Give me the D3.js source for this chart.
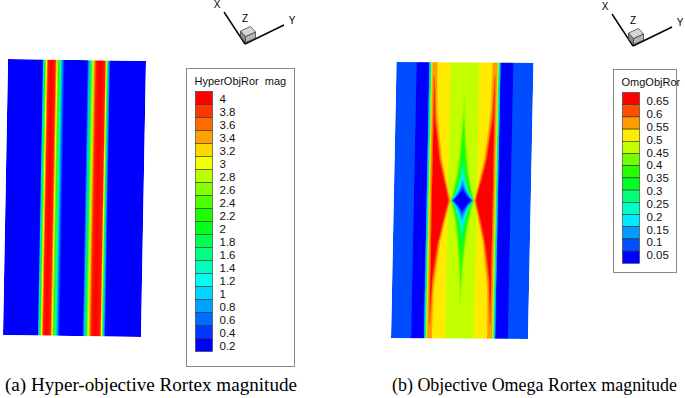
<!DOCTYPE html>
<html>
<head>
<meta charset="utf-8">
<script src="https://cdn.jsdelivr.net/npm/d3@7"></script>
<style>
  body { margin: 0; background: #fff; }
  svg { display: block; }
</style>
</head>
<body>
<svg id="chart" width="685" height="398"></svg>
<script>
// ---- data ----

// (a) cross-section across the plate: position u (0..1) and magnitude
const leftU   = [0, 0.250, 0.258, 0.268, 0.279, 0.292, 0.315, 0.342, 0.355, 0.368, 0.382, 0.398, 0.412,
                 0.575, 0.588, 0.602, 0.618, 0.640, 0.668, 0.703, 0.712, 0.722, 0.732, 0.742, 1];
const leftVal = [0.1, 0.1, 1.0, 2.0, 3.0, 3.9, 4.1, 3.9, 3.1, 2.2, 1.4, 0.6, 0.1,
                 0.1, 0.9, 1.9, 2.9, 3.9, 4.1, 3.9, 3.0, 1.8, 0.8, 0.1, 0.1];
const leftLevels = [4, 3.8, 3.6, 3.4, 3.2, 3, 2.8, 2.6, 2.4, 2.2, 2, 1.8, 1.6, 1.4, 1.2, 1, 0.8, 0.6, 0.4, 0.2];

// (b) vertical bands [u0, u1, level]
const rightBands = [
  [0, 1, 0.1],
  [0.146, 0.854, 0.05],
  [0.240, 0.760, 0.15],
  [0.245, 0.755, 0.25],
  [0.250, 0.750, 0.35],
  [0.255, 0.745, 0.45],
  [0.259, 0.741, 0.55],
  [0.263, 0.737, 0.6],
  [0.298, 0.702, 0.55],
  [0.395, 0.605, 0.5]
];
// wedges on the inner side of the left orange band (right one is mirrored), [u, v] points
const wedgeLevels = [0.6, 0.65, 0.7];
const wedges = [
  [[0.268, 0.0], [0.298, 0.0], [0.305, 0.18], [0.345, 0.35], [0.38, 0.43], [0.414, 0.5],
   [0.38, 0.57], [0.345, 0.65], [0.305, 0.82], [0.298, 1.0], [0.268, 1.0]],
  [[0.274, 0.05], [0.283, 0.05], [0.296, 0.20], [0.335, 0.35], [0.372, 0.43], [0.407, 0.5],
   [0.372, 0.57], [0.335, 0.65], [0.296, 0.80], [0.283, 0.95], [0.274, 0.95], [0.272, 0.5]],
  [[0.279, 0.10], [0.283, 0.10], [0.290, 0.21], [0.328, 0.35], [0.365, 0.43], [0.400, 0.5],
   [0.365, 0.57], [0.328, 0.65], [0.290, 0.79], [0.283, 0.90], [0.279, 0.90], [0.277, 0.5]]
];
// spike and diamond at the centre: [level, half width (u), half height (v), pinch]
const core = [
  [0.45, 0.088, 0.40, 0.22],
  [0.40, 0.084, 0.31, 0.24],
  [0.35, 0.081, 0.21, 0.28],
  [0.30, 0.079, 0.15, 0.30],
  [0.25, 0.077, 0.12, 0.32],
  [0.20, 0.076, 0.10, 0.33],
  [0.15, 0.075, 0.075, 0.35],
  [0.10, 0.074, 0.055, 0.37],
  [0.05, 0.071, 0.04, 0.40]
];
const rightLevels = [0.65, 0.6, 0.55, 0.5, 0.45, 0.4, 0.35, 0.3, 0.25, 0.2, 0.15, 0.1, 0.05];

// ---- setup ----
const svg = d3.select("#chart");
const defs = svg.append("defs");

// tecplot "small rainbow"
const rainbow = d3.scaleLinear()
  .domain([0, 0.25, 0.5, 0.75, 1])
  .range(["#0000ff", "#00ffff", "#00ff00", "#ffff00", "#ff0000"])
  .clamp(true);
const leftColor = v => rainbow((v - 0.2) / 3.8);
const rightColor = v => rainbow((v - 0.05) / 0.65);

const W = 138, H = 276;
const xs = d3.scaleLinear().domain([0, 1]).range([0, W]);
const ys = d3.scaleLinear().domain([0, 1]).range([0, H]);

// plates are slightly tilted in the view -> affine matrix from the 3 corners
function plate(tl, tr, bl, id) {
  const a = (tr[0] - tl[0]) / W, b = (tr[1] - tl[1]) / W;
  const c = (bl[0] - tl[0]) / H, d = (bl[1] - tl[1]) / H;
  defs.append("clipPath").attr("id", id)
    .append("rect").attr("width", W).attr("height", H);
  return svg.append("g")
    .attr("transform", `matrix(${a},${b},${c},${d},${tl[0]},${tl[1]})`)
    .attr("clip-path", `url(#${id})`);
}

// ---- (a) plot ----
const grad = defs.append("linearGradient").attr("id", "gradA")
  .attr("x1", 0).attr("x2", 1).attr("y1", 0).attr("y2", 0);
grad.selectAll("stop")
  .data(leftU)
  .join("stop")
  .attr("offset", d => d)
  .attr("stop-color", (d, i) => leftColor(leftVal[i]));

const gA = plate([8, 59], [146, 61], [3, 335], "clipA");
gA.append("rect").attr("width", W).attr("height", H).attr("fill", "url(#gradA)");

// ---- (b) plot ----
defs.append("filter").attr("id", "soft")
  .attr("x", -0.05).attr("y", -0.05).attr("width", 1.1).attr("height", 1.1)
  .append("feGaussianBlur").attr("stdDeviation", 0.6);

const gB = plate([396.5, 62], [533.5, 63], [391, 338], "clipB")
  .append("g").attr("filter", "url(#soft)");

gB.selectAll("rect.band")
  .data(rightBands)
  .join("rect")
  .attr("class", "band")
  .attr("x", d => xs(d[0]))
  .attr("width", d => xs(d[1]) - xs(d[0]))
  .attr("y", -5).attr("height", H + 10)
  .attr("fill", d => rightColor(d[2]));

const line = d3.line().x(d => xs(d[0])).y(d => ys(d[1])).curve(d3.curveLinearClosed);
wedges.forEach((pts, i) => {
  const mirrored = pts.map(p => [1 - p[0], p[1]]);
  gB.selectAll(null)
    .data([pts, mirrored])
    .join("path")
    .attr("d", line)
    .attr("fill", rightColor(wedgeLevels[i]));
});

function lens(d) {
  const cx = xs(0.5), cy = ys(0.5), hw = xs(d[1]), hh = ys(d[2]), k = d[3];
  const p = d3.path();
  p.moveTo(cx, cy - hh);
  p.quadraticCurveTo(cx + k * hw, cy - k * hh, cx + hw, cy);
  p.quadraticCurveTo(cx + k * hw, cy + k * hh, cx, cy + hh);
  p.quadraticCurveTo(cx - k * hw, cy + k * hh, cx - hw, cy);
  p.quadraticCurveTo(cx - k * hw, cy - k * hh, cx, cy - hh);
  p.closePath();
  return p.toString();
}
gB.selectAll("path.core")
  .data(core)
  .join("path")
  .attr("class", "core")
  .attr("d", lens)
  .attr("fill", d => rightColor(d[0]));

// ---- legends ----
function legend(x0, y0, w, h, title, levels, boxH, extraTop, labTop, labBottom) {
  const g = svg.append("g").attr("font-family", "'Liberation Sans', Arial, sans-serif");
  g.append("rect").attr("x", x0).attr("y", y0).attr("width", w).attr("height", h)
    .attr("fill", "#fff").attr("stroke", "#8a8a8a").attr("stroke-width", 1);
  g.append("text").attr("x", x0 + 8).attr("y", y0 + 16)
    .attr("font-size", 11).attr("fill", "#111").attr("xml:space", "preserve").text(title);

  const n = levels.length + (extraTop ? 1 : 0);
  const by = d3.scaleLinear().domain([0, n]).range([y0 + 23, y0 + 23 + n * boxH]);
  g.selectAll("rect.box")
    .data(d3.range(n))
    .join("rect")
    .attr("class", "box")
    .attr("x", x0 + 9).attr("width", 17)
    .attr("y", i => by(i)).attr("height", boxH)
    .attr("fill", i => rainbow((n - 1 - i) / (n - 1)))
    .attr("stroke", "#333").attr("stroke-width", 0.6);
  const ly = d3.scaleLinear().domain([0, levels.length - 1]).range([labTop, labBottom]);
  g.selectAll("text.lab")
    .data(levels)
    .join("text")
    .attr("class", "lab")
    .attr("x", x0 + 33)
    .attr("y", (d, i) => ly(i) + 4.2)
    .attr("font-size", 11.5).attr("fill", "#111")
    .text(d => d);
}
legend(186.5, 68.5, 108, 298, "HyperObjRor  mag", leftLevels, 13, false, 99, 346);
legend(613.5, 69.5, 63, 203, "OmgObjRor", rightLevels, 12.2, true, 101, 255);

// ---- axis triads ----
function triad(cx, cy) {
  const g = svg.append("g");
  g.append("line").attr("x1", cx).attr("y1", cy).attr("x2", cx - 21).attr("y2", cy - 32)
    .attr("stroke", "#000").attr("stroke-width", 1.4);
  g.append("line").attr("x1", cx).attr("y1", cy).attr("x2", cx + 39).attr("y2", cy - 19)
    .attr("stroke", "#000").attr("stroke-width", 1.4);
  const ex = [-5, -5.5], ey = [10, -4.5], ez = [0, -6];
  const P = (...v) => v.reduce((s, d) => [s[0] + d[0], s[1] + d[1]], [cx + 0.5, cy - 1.5]);
  const faces = [
    [[P(), P(ex), P(ex, ez), P(ez)], "#8c8c8c"],
    [[P(), P(ey), P(ey, ez), P(ez)], "#b4b4b4"],
    [[P(ez), P(ex, ez), P(ex, ey, ez), P(ey, ez)], "#d6d6d6"]
  ];
  g.selectAll("polygon")
    .data(faces)
    .join("polygon")
    .attr("points", d => d[0].join(" "))
    .attr("fill", d => d[1])
    .attr("stroke", "#333").attr("stroke-width", 0.7);
  const lab = [["X", cx - 28, cy - 36], ["Y", cx + 47, cy - 20], ["Z", cx, cy - 22]];
  g.selectAll("text")
    .data(lab)
    .join("text")
    .attr("x", d => d[1]).attr("y", d => d[2])
    .attr("text-anchor", "middle")
    .attr("font-family", "'Liberation Sans', Arial, sans-serif")
    .attr("font-size", 10).text(d => d[0]);
}
triad(245, 44);
triad(633, 46);

// ---- captions ----
svg.append("g")
  .attr("font-family", "'Liberation Serif', 'Times New Roman', serif")
  .attr("fill", "#000")
  .selectAll("text")
  .data([["(a) Hyper-objective Rortex magnitude", 5, 292, 19], ["(b) Objective Omega Rortex magnitude", 392, 285, 18]])
  .join("text")
  .attr("x", d => d[1]).attr("y", 391)
  .attr("font-size", d => d[3])
  .attr("textLength", d => d[2]).attr("lengthAdjust", "spacingAndGlyphs")
  .text(d => d[0]);
</script>
</body>
</html>
